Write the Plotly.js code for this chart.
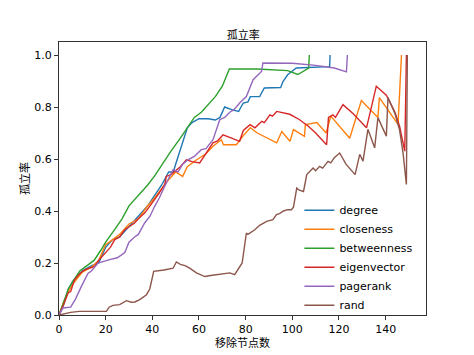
<!DOCTYPE html>
<html>
<head>
<meta charset="utf-8">
<script src="https://cdn.plot.ly/plotly-3.0.1.min.js"></script>
<style>html,body{margin:0;padding:0;background:#fff;}#chart{width:474px;height:355px;}</style>
</head>
<body>
<div id="chart"></div>
<script>
const seriesNames = ["degree", "closeness", "betweenness", "eigenvector", "pagerank", "rand"];
const seriesColors = ["#1f77b4", "#ff7f0e", "#2ca02c", "#d62728", "#9467bd", "#8c564b"];

const degreeX = [0,2,4,6,10,14,17,20,23,26,30,34,38,41,44,47,49,50,53,55,57,60,64,67,69,71,74,77,78,79,81,82,86,88,95,96,98,101.7,116,116.2];
const degreeY = [0,0.04,0.1,0.13,0.17,0.19,0.2,0.26,0.29,0.3,0.34,0.38,0.42,0.46,0.5,0.55,0.55,0.58,0.66,0.72,0.74,0.755,0.755,0.75,0.76,0.8,0.79,0.783,0.8,0.815,0.82,0.84,0.84,0.873,0.875,0.898,0.924,0.95,0.955,1.0];

const closenessX = [0,2,4,6,10,14,17,20,23,26,30,34,38,41,46,50,53,55,59,63,66,69.6,70.5,76,79,82,85,93.3,95.5,99,100.5,105.2,105.6,110.5,114.5,116.5,124.6,129.6,136.7,137.3,145.3,146.8];
const closenessY = [0,0.05,0.09,0.12,0.165,0.185,0.21,0.27,0.29,0.31,0.35,0.37,0.42,0.45,0.51,0.55,0.533,0.57,0.597,0.62,0.649,0.674,0.655,0.655,0.69,0.72,0.70,0.662,0.706,0.668,0.713,0.687,0.732,0.74,0.70,0.765,0.68,0.825,0.76,0.836,0.733,1.0];

const betweennessX = [0,2,4,6,9,12,15,18,20,24,27,30,34,38,41,45,48,52,55,58,61,64,67,70,73,85,98,102.4,107,107.3];
const betweennessY = [0,0.05,0.1,0.13,0.17,0.19,0.21,0.25,0.28,0.33,0.37,0.42,0.46,0.5,0.535,0.59,0.63,0.68,0.72,0.76,0.78,0.81,0.84,0.88,0.946,0.946,0.94,0.925,0.95,1.0];

const eigenvectorX = [0,2,3.9,5,6.7,9,11,15.3,17,19.6,22,23.9,26,28.2,30,32.4,34,36.7,39,41,43,45.3,46,48,50.3,52,54.6,57,60.3,63,66,68,70.3,74,77.4,79,81.9,84,86.9,88,90.4,91.5,93.3,98.9,103,107,110,114.7,115.5,117.4,118.5,121.7,126,131.8,136,140.3,144,146,148.2,148.9];
const eigenvectorY = [0,0.04,0.085,0.09,0.136,0.16,0.174,0.187,0.21,0.238,0.26,0.29,0.3,0.328,0.34,0.354,0.37,0.392,0.42,0.443,0.47,0.501,0.533,0.54,0.559,0.57,0.597,0.59,0.585,0.62,0.662,0.67,0.693,0.68,0.668,0.71,0.732,0.72,0.745,0.74,0.77,0.765,0.783,0.772,0.752,0.725,0.70,0.655,0.76,0.77,0.76,0.809,0.775,0.72,0.88,0.845,0.78,0.725,0.63,1.0];

const pagerankX = [0,1.7,5,7,9.6,12.4,14,16.7,21.7,25,28.2,30,32.4,34,36.7,39,41,43,45.3,48.9,51,53,55.3,58,61,63,66,68.9,71,73.2,75,77.4,80.3,83.2,86.8,87.4,100,110,118,123.2,123.6];
const pagerankY = [0,0.027,0.03,0.06,0.11,0.16,0.17,0.2,0.213,0.22,0.24,0.28,0.3,0.31,0.354,0.38,0.418,0.45,0.495,0.559,0.55,0.58,0.597,0.61,0.636,0.64,0.674,0.751,0.76,0.78,0.79,0.815,0.84,0.905,0.937,0.969,0.968,0.96,0.95,0.935,1.0];

const randX = [0,2,5,8.6,20.3,21.5,23.1,26,28.9,31,32.5,34.6,37.5,38.9,40.6,45,48.9,50.3,52,54,56,58.9,62.5,65,70,73.2,75.3,77.4,78.5,80.3,81,83.9,86,89,91.7,93.2,94.5,96.2,98,99.6,100.5,101.9,103,104.8,106.2,108.9,110,111.7,113,115.3,116.5,118,120.3,123,126.9,128.9,130.3,132.4,135.3,136.7,140.3,141,144,146,147.5,148.9,149.3];
const randY = [0,0.005,0.01,0.014,0.014,0.03,0.037,0.04,0.055,0.049,0.05,0.059,0.078,0.1,0.168,0.173,0.18,0.204,0.195,0.19,0.18,0.162,0.148,0.152,0.158,0.162,0.155,0.187,0.2,0.315,0.31,0.328,0.345,0.36,0.367,0.386,0.39,0.4,0.405,0.405,0.415,0.488,0.48,0.475,0.54,0.565,0.555,0.572,0.565,0.591,0.585,0.605,0.623,0.58,0.54,0.618,0.592,0.714,0.643,0.759,0.688,0.836,0.775,0.71,0.62,0.502,1.0];

const xTicks = [0,20,40,60,80,100,120,140];
const yTicks = [0.0,0.2,0.4,0.6,0.8,1.0];

const xs = [degreeX, closenessX, betweennessX, eigenvectorX, pagerankX, randX];
const ys = [degreeY, closenessY, betweennessY, eigenvectorY, pagerankY, randY];

const font = "DejaVu Sans, Noto Sans CJK SC, sans-serif";
const traces = seriesNames.map((n, i) => ({
  type: "scatter", mode: "lines", name: n,
  x: xs[i], y: ys[i],
  line: {color: seriesColors[i], width: 1.4}
}));

const axisCommon = {
  showline: true, linecolor: "#333", linewidth: 1, mirror: true,
  ticks: "outside", ticklen: 4, tickcolor: "#333", tickwidth: 1,
  showgrid: false, zeroline: false,
  tickfont: {family: font, size: 11, color: "#000"}
};

const layout = {
  width: 474, height: 355,
  margin: {l: 59, r: 48, t: 42, b: 40},
  paper_bgcolor: "#fff", plot_bgcolor: "#fff",
  font: {family: font, size: 11, color: "#000"},
  title: {text: "孤立率", x: 0.513, xanchor: "center", y: 0.9, yanchor: "middle", font: {family: font, size: 11, color: "#000"}},
  xaxis: Object.assign({}, axisCommon, {
    range: [0, 157.3], tickvals: xTicks, ticktext: xTicks.map(String),
    title: {text: "移除节点数", font: {family: font, size: 11}, standoff: 2}
  }),
  yaxis: Object.assign({}, axisCommon, {
    range: [0, 1.05], tickvals: yTicks, ticktext: yTicks.map(v => v.toFixed(1)),
    title: {text: "孤立率", font: {family: font, size: 11}, standoff: 2}
  }),
  showlegend: true,
  legend: {x: 0.655, y: 0.437, xanchor: "left", yanchor: "top",
    bgcolor: "rgba(255,255,255,0)", borderwidth: 0,
    font: {family: font, size: 11, color: "#000"}, tracegroupgap: 0}
};

Plotly.newPlot("chart", traces, layout, {displayModeBar: false, staticPlot: true});
</script>
</body>
</html>
